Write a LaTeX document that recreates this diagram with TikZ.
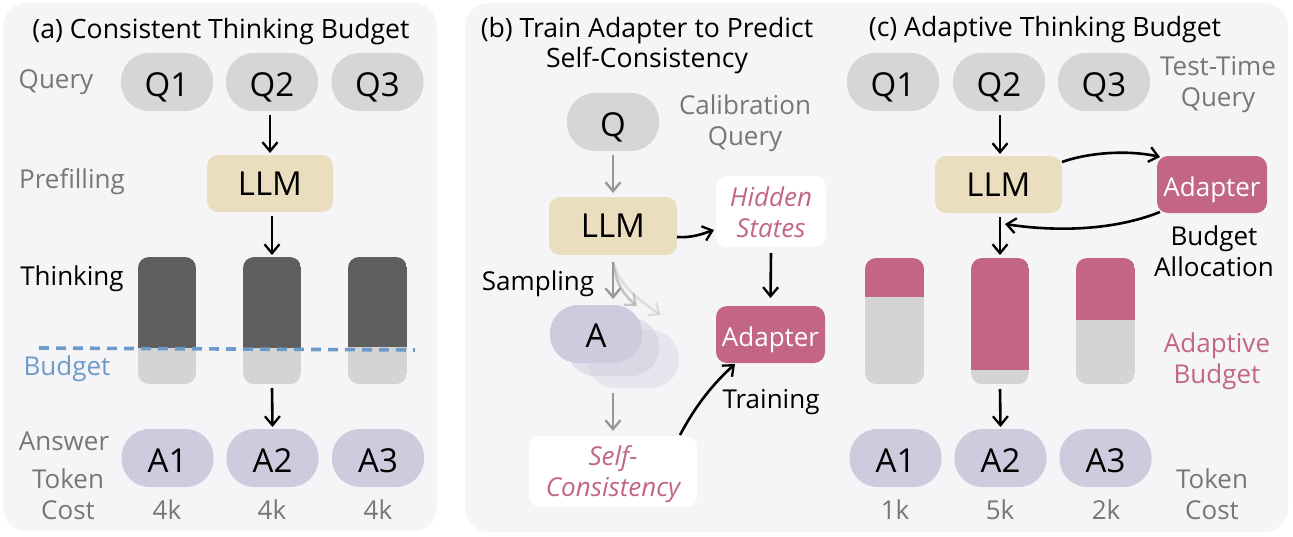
\documentclass[tikz,border=0pt]{standalone}
\usepackage{fontspec}
\setmainfont{Open Sans}
\usetikzlibrary{arrows.meta,calc}
\definecolor{panel}{HTML}{F5F5F8}
\definecolor{qgray}{HTML}{D6D6D6}
\definecolor{llmc}{HTML}{EADEBE}
\definecolor{ansc}{HTML}{CDCCDE}
\definecolor{rosec}{HTML}{C26684}
\definecolor{darkbar}{HTML}{5E5E5E}
\definecolor{lightbar}{HTML}{D4D4D4}
\definecolor{bluec}{HTML}{6C9BC9}
\definecolor{labelg}{HTML}{777777}
\definecolor{arrg}{HTML}{979797}
\tikzset{
  x=1pt,y=-1pt,
  fs/.style={font=\fontsize{33}{36}\selectfont},
  ls/.style={font=\fontsize{26}{31}\selectfont},
  ts/.style={font=\fontsize{26.6}{30}\selectfont,text=black,align=center,inner sep=0},
  lab/.style={ls,text=labelg,align=center,inner sep=0},
  blk/.style={ls,text=black,align=center,inner sep=0},
  pill/.style={fill=#1,rounded corners=28pt,inner sep=0,outer sep=0,fs,minimum height=58pt,minimum width=92pt,text=black,text height=28pt,text depth=0pt},
  qpill/.style={pill=qgray,text height=29pt},
  rbox/.style={fill=#1,rounded corners=11pt,inner sep=0,outer sep=0},
  adpt/.style={rbox=rosec,ls,text=white,text height=23pt,text depth=0pt},
  ital/.style={rbox=white,font=\fontsize{26}{31}\selectfont\itshape,text=rosec,align=center},
  arr/.style={-{Straight Barb[length=9pt,width=15pt,line width=2.3pt]},line width=2.6pt,black},
  garr/.style={-{Straight Barb[length=9pt,width=15pt,line width=2.3pt]},line width=2.6pt,arrg},
  answ/.style={fill=ansc,rounded corners=28pt,minimum width=92pt,minimum height=58pt,inner sep=0},
}
\newcommand{\tbar}[5]{% x1 x2 top split colour-top colour-bottom
  \begin{scope}
  \clip[rounded corners=11pt] (#1,#3) rectangle (#2,384);
  \fill[#5] (#1,#3) rectangle (#2,#4);
  \fill[lightbar] (#1,#4) rectangle (#2,384);
  \end{scope}}
\begin{document}
\begin{tikzpicture}
\useasboundingbox (0,0) rectangle (1293,536);
\fill[white] (0,0) rectangle (1293,536);
\fill[panel,rounded corners=24pt] (3,3) rectangle (437,531);
\fill[panel,rounded corners=24pt] (465,3) rectangle (1288,532);
% panel a
\node[ts] (ta) at (221,32) {(a) Consistent Thinking Budget};
\node[lab] (la1) at (56,82) {Query};
\node[lab] (la2) at (72,182) {Prefilling};
\node[blk] (la3) at (72,279) {Thinking};
\node[ls,text=bluec,inner sep=0] (la4) at (67,369) {Budget};
\node[lab] (la5) at (64,441) {Answer};
\node[lab] (la6) at (68,494) {Token\\Cost};
\node[qpill] (aq1) at (167,82) {Q1};
\node[qpill] (aq2) at (272,82) {Q2};
\node[qpill] (aq3) at (377.5,82) {Q3};
\node[rbox=llmc,minimum width=126pt,minimum height=57pt,fs] (allm) at (270,183.5) {LLM};
\tbar{138}{196}{257}{348}{darkbar}
\tbar{243}{301}{257}{348}{darkbar}
\tbar{348}{407}{257}{347}{darkbar}
\coordinate (abar) at (272,255);
\coordinate (abarb) at (272,388);
\coordinate (bl) at (39,348);
\coordinate (br) at (415,350);
\draw[bluec,line width=3.6pt,dash pattern=on 10pt off 7pt] (bl) -- (br);
\node[pill=ansc] (aa1) at (167.5,458) {A1};
\node[pill=ansc] (aa2) at (272.5,458) {A2};
\node[pill=ansc] (aa3) at (378,458) {A3};
\node[lab] at (167,510) {4k};
\node[lab] at (272,510) {4k};
\node[lab] at (378,510) {4k};
\draw[arr] (aq2.south)++(-2,4) -- ($(allm.north)+(0,-2)$);
\draw[arr] (allm.south)++(2,4) -- (abar);
\draw[arr] (abarb) -- ($(aa2.north)+(0,-2)$);
% panel b
\node[ts] (tb) at (647,46) {(b) Train Adapter to Predict\\Self-Consistency};
\node[qpill] (bq) at (613,122) {Q};
\node[lab] (lb1) at (745,123) {Calibration\\Query};
\node[rbox=llmc,minimum width=128pt,minimum height=58pt,fs] (bllm) at (613,226) {LLM};
\node[ital,minimum width=110pt,minimum height=71pt] (hid) at (771,211.5) {\rule{0pt}{22pt}Hidden\\States};
\node[adpt,minimum width=109pt,minimum height=57pt] (bad) at (770.5,334.5) {Adapter};
\node[blk] (lb2) at (538,284) {Sampling};
\node[blk] (lb3) at (771,402) {Training};
\node[answ,opacity=.35] (a3) at (633,359) {};
\node[answ,opacity=.5] (a2) at (613,347) {};
\node[answ,fs,text height=26pt,text depth=0pt] (a1) at (596,334) {A};
\node[ital,minimum width=168pt,minimum height=71pt] (sc) at (613,471.5) {\rule{0pt}{26pt}Self-\\Consistency};
\coordinate (s0) at (613,262);
\coordinate (s1) at (637,306);
\coordinate (s2) at (661,315);
\coordinate (s3) at (613,299);
\coordinate (s4) at (613,393);
\coordinate (s5) at (613,431);
\draw[garr,opacity=.25] (s0) .. controls (618,282) and (635,298) .. (s2);
\draw[garr,opacity=.5] (s0) .. controls (616,285) and (625,296) .. (s1);
\draw[garr] (bq.south)++(0,4) -- ($(bllm.north)+(0,-4)$);
\draw[garr] (s0) -- (s3);
\draw[garr] (s4) -- (s5);
\draw[arr] (bllm.east |- 0,237) .. controls (692,238) and (702,234) .. (714,230);
\draw[arr] (hid.south)++(0,6) -- ($(bad.north)+(0,-8)$);
\draw[arr] (680,435) .. controls (697,403) and (715,382) .. (735,364);
% panel c
\node[ts] (tc) at (1045,30) {(c) Adaptive Thinking Budget};
\node[qpill] (cq1) at (893,82) {Q1};
\node[qpill] (cq2) at (999,82) {Q2};
\node[qpill] (cq3) at (1104,82) {Q3};
\node[lab] (lc1) at (1218,85) {Test-Time\\Query};
\node[rbox=llmc,minimum width=127pt,minimum height=57pt,fs] (cllm) at (998.5,184.5) {LLM};
\node[adpt,minimum width=110pt,minimum height=57pt] (cad) at (1212,184.5) {Adapter};
\node[blk] (lc2) at (1214,251) {Budget\\Allocation};
\tbar{865}{924}{258}{297}{rosec}
\tbar{971}{1029}{258}{370}{rosec}
\tbar{1076}{1135}{258}{320}{rosec}
\coordinate (cbar) at (1000,255);
\coordinate (cbarb) at (1000,389);
\node[ls,text=rosec,align=center,inner sep=0] (lc3) at (1217,361) {Adaptive\\Budget};
\node[pill=ansc] (ca1) at (895.5,458) {A1};
\node[pill=ansc] (ca2) at (1000.5,458) {A2};
\node[pill=ansc] (ca3) at (1105.5,458) {A3};
\node[lab] at (895,510) {1k};
\node[lab] at (1000,510) {5k};
\node[lab] at (1106,510) {2k};
\node[lab] (lc4) at (1212,494) {Token\\Cost};
\draw[arr] (cq2.south)++(1,4) -- ($(cllm.north)+(1.5,-2)$);
\draw[arr] (cllm.east |- 0,162) .. controls (1090,152) and (1130,150) .. (1160,157);
\draw[arr] (cad.south west)++(3,-1) .. controls (1110,232) and (1050,231) .. (1005,224);
\draw[arr] (cllm.south)++(1.5,4) -- (cbar);
\draw[arr] (cbarb) -- ($(ca2.north)+(0,-2)$);
\end{tikzpicture}
\end{document}
